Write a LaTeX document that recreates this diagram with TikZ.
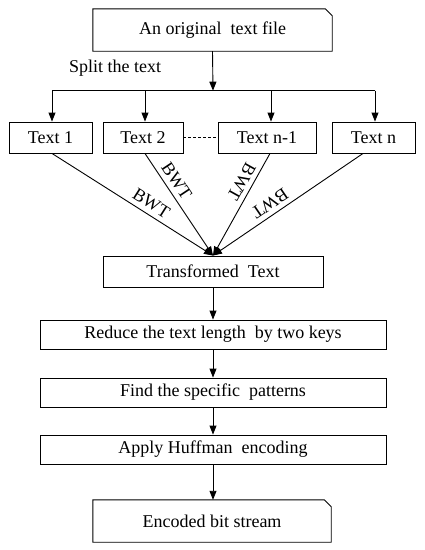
\documentclass[tikz,border=0pt]{standalone}
\usepackage{fontspec}
\setmainfont{Liberation Serif}
\usetikzlibrary{arrows.meta,calc}
\begin{document}
\begin{tikzpicture}[x=1pt,y=-1pt,
  txt/.style={font=\fontsize{18}{21}\selectfont},
  box/.style={draw, line width=0.9pt, rectangle, inner sep=0pt, txt},
  plain/.style={rectangle, inner sep=0pt, txt},
  arr/.style={line width=0.9pt, -{Triangle[length=9pt,width=7pt]}},
  ln/.style={line width=0.9pt},
  lbl/.style={txt, inner sep=4.5pt}]
\useasboundingbox (0,0) rectangle (425,550);
% top snipped box
\node[plain, minimum width=239pt, minimum height=42pt] (top) at (212.5,30) {An original \ text file};
\draw[ln] (top.south west) -- (top.north west) -- ($(top.north east)+(-7,0)$) -- ($(top.north east)+(0,7)$) -- (top.south east) -- cycle;
\node[txt, inner sep=0pt] (split) at (115,68) {Split the text};
% text boxes
\node[box, minimum width=83pt, minimum height=31pt] (t1) at (50.5,137.5) {Text 1};
\node[box, minimum width=80pt, minimum height=31pt] (t2) at (143,137.5) {Text 2};
\node[box, minimum width=98pt, minimum height=31pt] (t3) at (267,137.5) {Text n-1};
\node[box, minimum width=83pt, minimum height=31pt] (t4) at (373.5,137.5) {Text n};
% split line
\coordinate (sm) at (213,90.7);
\coordinate (s1) at (52,90.7);
\coordinate (s2) at (145,90.7);
\coordinate (s3) at (271,90.7);
\coordinate (s4) at (375,90.7);
\draw[arr] (top.south) -- (sm);
\draw[ln] (s1) -- (s4);
\draw[arr] (s1) -- (s1 |- t1.north);
\draw[arr] (s2) -- (s2 |- t2.north);
\draw[arr] (s3) -- (s3 |- t3.north);
\draw[arr] (s4) -- (s4 |- t4.north);
\draw[ln, dash pattern=on 3pt off 2pt] (t2.east) -- (t3.west);
% transformed
\node[box, minimum width=220pt, minimum height=31pt] (tt) at (213,271.5) {Transformed \ Text};
\draw[arr] ([xshift=1.5pt]t1.south) -- node[lbl, sloped, allow upside down, above, pos=0.58] {BWT} (tt.north);
\draw[arr] ([xshift=2pt]t2.south) -- node[lbl, sloped, allow upside down, above, pos=0.33] {BWT} (tt.north);
\draw[arr] ([xshift=3pt]t3.south) -- node[lbl, sloped, allow upside down, below, pos=0.33] {BWT} (tt.north);
\draw[arr] ([xshift=-10.5pt]t4.south) -- node[lbl, sloped, allow upside down, below, pos=0.58] {BWT} (tt.north);
% lower chain
\node[box, minimum width=346pt, minimum height=29pt] (r) at (213,334.5) {Reduce the text length \ by two keys};
\node[box, minimum width=346pt, minimum height=29pt] (f) at (213,392.5) {Find the specific \ patterns};
\node[box, minimum width=346pt, minimum height=29pt] (a) at (213,449.5) {Apply Huffman \ encoding};
\node[plain, minimum width=238pt, minimum height=42pt] (e) at (212,521) {Encoded bit stream};
\draw[ln] (e.south west) -- (e.north west) -- ($(e.north east)+(-7,0)$) -- ($(e.north east)+(0,7)$) -- (e.south east) -- cycle;
\draw[arr] (tt.south) -- (r.north);
\draw[arr] (r.south) -- (f.north);
\draw[arr] (f.south) -- (a.north);
\draw[arr] (a.south) -- (a.south |- e.north);
\end{tikzpicture}
\end{document}
